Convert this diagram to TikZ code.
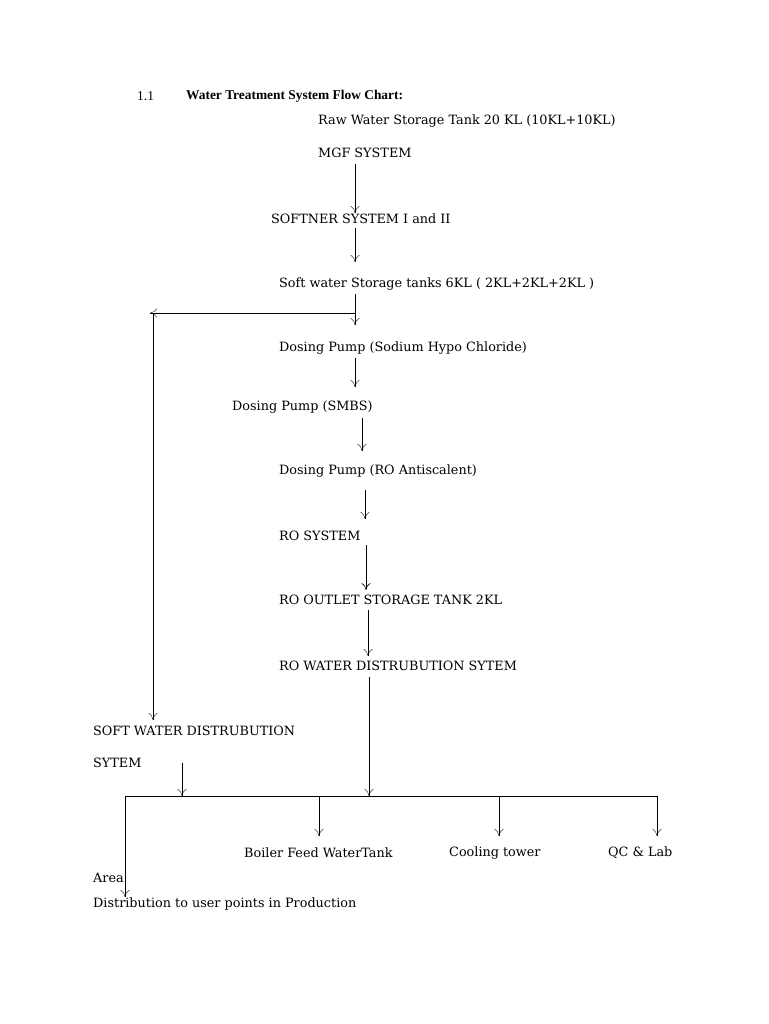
\documentclass[tikz,border=0pt]{standalone}
\usepackage{fontspec}
\setmainfont{DejaVu Serif}
\newfontfamily\titlefont{Liberation Serif}
\usetikzlibrary{arrows.meta}
\tikzset{
    lbl/.style={anchor=west, inner sep=0pt, font=\fontsize{12.8}{15}\selectfont},
    flow/.style={-{To[length=7pt,width=9pt]}, thin},
    bar/.style={thin}
}
\begin{document}
\begin{tikzpicture}[x=1pt,y=-1pt]
    \useasboundingbox (0,0) rectangle (768,1024);
    \node[lbl,font=\fontsize{13.4}{15}\titlefont] (num) at (137,96) {1.1};
    \node[lbl,font=\fontsize{13.4}{15}\titlefont\bfseries] (title) at (186,96) {Water Treatment System Flow Chart:};
    \node[lbl] (raw) at (318,121) {Raw Water Storage Tank 20 KL (10KL+10KL)};
    \node[lbl] (mgf) at (318,153) {MGF SYSTEM};
    \node[lbl] (soft) at (271,219) {SOFTNER SYSTEM I and II};
    \node[lbl] (stor) at (279,284) {Soft water Storage tanks 6KL ( 2KL+2KL+2KL )};
    \node[lbl] (dpa) at (279,348) {Dosing Pump (Sodium Hypo Chloride)};
    \node[lbl] (dpb) at (232,407) {Dosing Pump (SMBS)};
    \node[lbl] (dpc) at (279,471) {Dosing Pump (RO Antiscalent)};
    \node[lbl] (ro) at (279,536) {RO SYSTEM};
    \node[lbl] (rot) at (279,600) {RO OUTLET STORAGE TANK 2KL};
    \node[lbl] (rod) at (279,666) {RO WATER DISTRUBUTION SYTEM};
    \node[lbl] (swd) at (93,731) {SOFT WATER DISTRUBUTION};
    \node[lbl] (swdb) at (93,763) {SYTEM};
    \node[lbl] (boil) at (244,853) {Boiler Feed WaterTank};
    \node[lbl] (cool) at (449,853) {Cooling tower};
    \node[lbl] (qc) at (608,853) {QC \& Lab};
    \node[lbl] (area) at (93,878) {Area};
    \node[lbl] (dist) at (93,904) {Distribution to user points in Production};
    % connector points
    \coordinate (c1) at (355,164); \coordinate (c2) at (355,213);
    \coordinate (c3) at (355,228); \coordinate (c4) at (355,262);
    \coordinate (c5) at (355,294); \coordinate (c6) at (355,325);
    \coordinate (t1) at (355,313); \coordinate (t2) at (150,313);
    \coordinate (t3) at (153,313); \coordinate (t4) at (153,720);
    \coordinate (c7) at (355,358); \coordinate (c8) at (355,387);
    \coordinate (c9) at (362,418); \coordinate (c10) at (362,451);
    \coordinate (c11) at (365,490); \coordinate (c12) at (365,519);
    \coordinate (c13) at (366,545); \coordinate (c14) at (366,590);
    \coordinate (c15) at (368,610); \coordinate (c16) at (368,656);
    \coordinate (c17) at (369,677); \coordinate (c18) at (369,796);
    \coordinate (s1) at (182,763); \coordinate (s2) at (182,796);
    \coordinate (hl) at (125,796); \coordinate (hr) at (657,796);
    \draw[flow] (c1) -- (c2);
    \draw[flow] (c3) -- (c4);
    \draw[flow] (c5) -- (c6);
    \draw[flow] (t1) -- (t2);
    \draw[flow] (t3) -- (t4);
    \draw[flow] (c7) -- (c8);
    \draw[flow] (c9) -- (c10);
    \draw[flow] (c11) -- (c12);
    \draw[flow, semithick] (c13) -- (c14);
    \draw[flow] (c15) -- (c16);
    \draw[flow] (c17) -- (c18);
    \draw[flow] (s1) -- (s2);
    \draw[bar] (hl) -- (hr);
    \draw[flow] (hl) -- ++(0,101);
    \foreach \x in {319,499,657}
        \draw[flow] (\x,796) -- (\x,836);
\end{tikzpicture}
\end{document}
